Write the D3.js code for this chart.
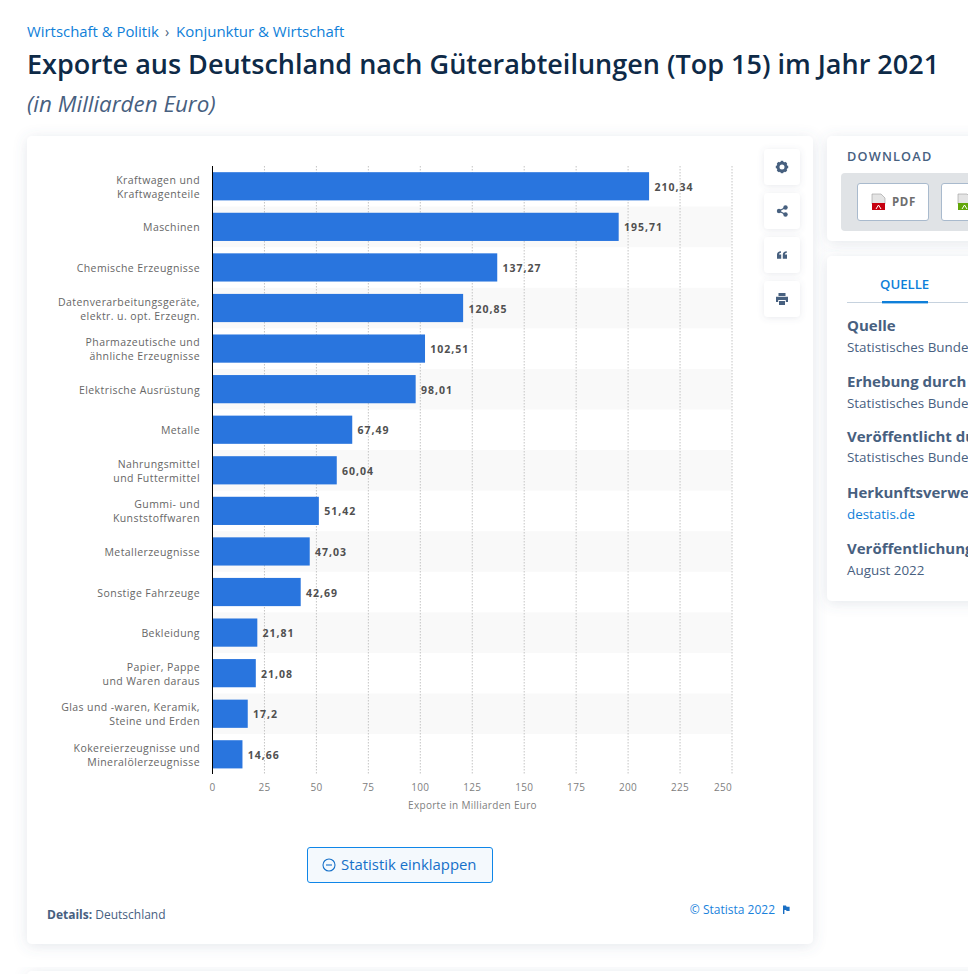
<!DOCTYPE html>
<html><head><meta charset="utf-8">
<script src="https://cdn.jsdelivr.net/npm/d3@7"></script>
<style>
html,body{margin:0;padding:0;background:#fff;overflow:hidden}
svg{display:block;font-family:"Open Sans",sans-serif}
</style></head><body><svg id="c" width="968" height="974"></svg>
<script>
const categories=[["Kraftwagen und","Kraftwagenteile"],["Maschinen"],["Chemische Erzeugnisse"],["Datenverarbeitungsgeräte,","elektr. u. opt. Erzeugn."],["Pharmazeutische und","ähnliche Erzeugnisse"],["Elektrische Ausrüstung"],["Metalle"],["Nahrungsmittel","und Futtermittel"],["Gummi- und","Kunststoffwaren"],["Metallerzeugnisse"],["Sonstige Fahrzeuge"],["Bekleidung"],["Papier, Pappe","und Waren daraus"],["Glas und -waren, Keramik,","Steine und Erden"],["Kokereierzeugnisse und","Mineralölerzeugnisse"]];
const values=[210.34,195.71,137.27,120.85,102.51,98.01,67.49,60.04,51.42,47.03,42.69,21.81,21.08,17.2,14.66];
const tickValues=[0,25,50,75,100,125,150,175,200,225,250];
const valueLabels=["210,34","195,71","137,27","120,85","102,51","98,01","67,49","60,04","51,42","47,03","42,69","21,81","21,08","17,2","14,66"];
const sourceHeads=["Quelle","Erhebung durch","Veröffentlicht durch","Herkunftsverweis","Veröffentlichungsdatum"];
const sourceVals=["Statistisches Bundesamt","Statistisches Bundesamt","Statistisches Bundesamt","destatis.de","August 2022"];

const svg=d3.select("#c");
const defs=svg.append("defs");
const f=defs.append("filter").attr("id","sh").attr("x","-10%").attr("y","-10%").attr("width","120%").attr("height","120%");
f.append("feDropShadow").attr("dx",0).attr("dy",2).attr("stdDeviation",7).attr("flood-color","#5a6b85").attr("flood-opacity",0.16);
const f2=defs.append("filter").attr("id","sh2").attr("x","-30%").attr("y","-30%").attr("width","160%").attr("height","160%");
f2.append("feDropShadow").attr("dx",0).attr("dy",1).attr("stdDeviation",3).attr("flood-color","#5a6b85").attr("flood-opacity",0.14);

const txt=(x,y,s,o={})=>svg.append("text").attr("x",x).attr("y",y).text(s)
 .attr("font-size",o.size||12).attr("fill",o.fill||"#000").attr("font-weight",o.weight||400)
 .attr("font-style",o.style||"normal").attr("text-anchor",o.anchor||"start").attr("letter-spacing",o.ls||0);
const card=(x,y,w,h,r=5)=>svg.append("rect").attr("x",x).attr("y",y).attr("width",w).attr("height",h).attr("rx",r).attr("fill","#fff").attr("filter","url(#sh)");

// header
txt(27,37,"Wirtschaft & Politik",{size:14.9,fill:"#0f7fd9"});
txt(165,37,"›",{size:14,fill:"#4a5f7c"});
txt(176,37,"Konjunktur & Wirtschaft",{size:15,fill:"#0f7fd9"});
txt(27,74,"Exporte aus Deutschland nach Güterabteilungen (Top 15) im Jahr 2021",{size:27,fill:"#0e2a47",weight:600});
txt(27,112,"(in Milliarden Euro)",{size:22.4,fill:"#47607f",style:"italic"});

// cards
card(27,136,786,808);
card(827,136,170,105);
card(827,256,170,345);
card(27,971,960,40);

// chart
const x=d3.scaleLinear().domain([0,250]).range([212,731.5]);
const y=d3.scaleBand().domain(d3.range(values.length)).range([166,774.6]).paddingInner(0.305).paddingOuter(0.1525);
const bandStep=y.step();
const g=svg.append("g");
g.selectAll("rect.band").data(d3.range(values.length).filter(i=>i%2==1)).join("rect")
 .attr("class","band").attr("x",x(0)).attr("width",x(250)-x(0))
 .attr("y",i=>y(i)-bandStep*0.1525).attr("height",bandStep).attr("fill","#f9f9f9");
g.selectAll("line.grid").data(tickValues.slice(1)).join("line").attr("class","grid")
 .attr("x1",d=>x(d)+0.5).attr("x2",d=>x(d)+0.5).attr("y1",166).attr("y2",774)
 .attr("stroke","#c4c4c4").attr("stroke-dasharray","1.5 1.5");
g.selectAll("rect.bar").data(values).join("rect").attr("class","bar")
 .attr("x",x(0)).attr("y",(d,i)=>y(i)).attr("width",d=>x(d)-x(0)).attr("height",y.bandwidth()).attr("fill","#2975de");
g.append("line").attr("x1",212.5).attr("x2",212.5).attr("y1",166).attr("y2",774).attr("stroke","#000");
g.selectAll("text.val").data(values).join("text").attr("class","val")
 .attr("x",d=>x(d)+5.3).attr("y",(d,i)=>y(i)+y.bandwidth()/2+4.6).text((d,i)=>valueLabels[i])
 .attr("font-size",10.5).attr("font-weight",700).attr("fill","#505050").attr("letter-spacing",1.0);
categories.forEach((c,i)=>{
 const cy=y(i)+y.bandwidth()/2;
 c.forEach((s,j)=>txt(200,cy+4.5+(j-(c.length-1)/2)*14,s,{size:10.5,fill:"#666",anchor:"end",ls:0.42}));
});
const ax=svg.append("g").attr("transform","translate(0,784)")
 .call(d3.axisBottom(x).tickValues(tickValues).tickSize(0).tickPadding(0).tickFormat(d=>d));
ax.select(".domain").remove();
ax.selectAll("text").attr("font-family","'Open Sans',sans-serif").attr("font-size",10).attr("fill","#808080").attr("letter-spacing",0.3).attr("dy","0.71em")
 .attr("x",function(d){return d===250?-9:0});
txt(472.5,809,"Exporte in Milliarden Euro",{size:10,fill:"#808080",anchor:"middle",ls:0.3});

// button
svg.append("rect").attr("x",307.5).attr("y",847.5).attr("width",185).attr("height",35).attr("rx",2.5).attr("fill","#f4f9fd").attr("stroke","#0f86e8");
svg.append("circle").attr("cx",329).attr("cy",865).attr("r",6).attr("fill","none").attr("stroke","#1570c9").attr("stroke-width",1.1);
svg.append("line").attr("x1",326).attr("x2",332).attr("y1",865).attr("y2",865).attr("stroke","#1570c9").attr("stroke-width",1.1);
txt(341,870,"Statistik einklappen",{size:14.9,fill:"#1570c9"});
// footer
const det=txt(47,919,"",{size:12,fill:"#47607f"});
det.append("tspan").text("Details: ").attr("font-weight",700);
det.append("tspan").text("Deutschland");
txt(775,914,"© Statista 2022",{size:12,fill:"#1a82dc",anchor:"end"});
svg.append("path").attr("d","M783 905.5h3l.6 1.2h3v4.4h-3l-.6-1.2h-1.6v4.1h-1.4z").attr("fill","#1a6fc4");

// side buttons
const ic="#47607f";
[166.5,210.5,254.5,298.5].forEach((cy,i)=>{
 svg.append("rect").attr("x",764).attr("y",cy-17.5).attr("width",36).attr("height",36).attr("rx",4).attr("fill","#fff").attr("filter","url(#sh2)");
 const t=svg.append("g").attr("transform",`translate(782,${cy+0.5})`).attr("fill",ic);
 if(i==0){
  t.append("circle").attr("r",4).attr("fill","none").attr("stroke",ic).attr("stroke-width",3);
  d3.range(8).forEach(k=>t.append("rect").attr("x",-1.2).attr("y",-6.2).attr("width",2.4).attr("height",2).attr("transform",`rotate(${k*45})`));
 } else if(i==1){
  t.append("path").attr("d","M3.5-3.5L-3 0L3.5 3.5").attr("fill","none").attr("stroke",ic).attr("stroke-width",1.3);
  [[3.5,-3.5],[-3,0],[3.5,3.5]].forEach(p=>t.append("circle").attr("cx",p[0]).attr("cy",p[1]).attr("r",2.2));
 } else if(i==2){
  [-5,0.8].forEach(o=>t.append("path").attr("transform",`translate(${o},0)`).attr("d","M0 -0.5Q0-3.5 4-3.8V-2.2Q2-2 2-0.5H4.2V3.8H0Z"));
 } else {
  t.append("path").attr("d","M-3.5-6H3.5V-3H-3.5ZM-6-2.2H6V3H3.8V1H-3.8V3H-6ZM-3 2H3V6H-3Z");
 }
});

// download card
txt(847,161,"DOWNLOAD",{size:12.7,fill:"#47607f",weight:600,ls:1.2});
svg.append("rect").attr("x",841).attr("y",173).attr("width",140).attr("height",58).attr("rx",4).attr("fill","#e0e3e6");
[857.5,941.5].forEach(bx=>svg.append("rect").attr("x",bx).attr("y",183.5).attr("width",71).attr("height",37).attr("rx",2.5).attr("fill","#fff").attr("stroke","#a9bacd"));
const fileIcon=(ix,col)=>{
 svg.append("path").attr("d",`M${ix} 194h9l4 4v6h-13z`).attr("fill","#e4e4e4").attr("stroke","#9a9a9a").attr("stroke-width",0.6);
 svg.append("rect").attr("x",ix).attr("y",203).attr("width",13).attr("height",7).attr("fill",col);
 svg.append("path").attr("d",`M${ix+4} 209l2.5-4l2.5 4`).attr("fill","none").attr("stroke","#fff").attr("stroke-width",1);
};
fileIcon(872,"#c6000f");
fileIcon(958,"#62a60a");
txt(892,206,"PDF",{size:11.5,fill:"#6e6e6e",weight:700,ls:0.6});

// source card
txt(880,289,"QUELLE",{size:13.2,fill:"#0f7fd9",weight:600});
svg.append("line").attr("x1",847).attr("x2",968).attr("y1",302.5).attr("y2",302.5).attr("stroke","#c6d2de");
svg.append("rect").attr("x",882).attr("y",301).attr("width",46).attr("height",2.4).attr("fill","#0f7fd9");
const headY=[331,387,442,498,554], valY=[352,408,462,519,575];
sourceHeads.forEach((h,i)=>{
 txt(847,headY[i],h,{size:15,fill:"#47607f",weight:700});
 txt(847,valY[i],sourceVals[i],{size:13.4,fill:i==3?"#0f7fd9":"#47607f"});
});
</script></body></html>
